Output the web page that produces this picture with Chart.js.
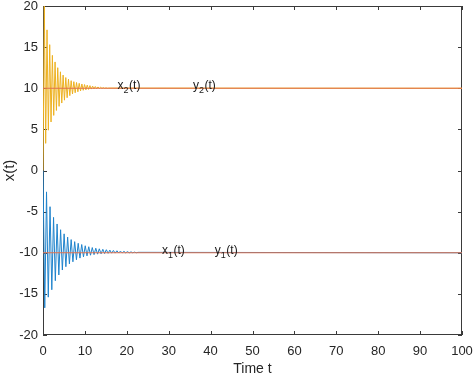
<!DOCTYPE html>
<html>
<head>
<meta charset="utf-8">
<script src="https://cdn.jsdelivr.net/npm/chart.js@4.4.1/dist/chart.umd.min.js"></script>
<style>
html,body{margin:0;padding:0;background:#fff;overflow:hidden;}
#wrap{width:474px;height:379px;}
</style>
</head>
<body>
<div id="wrap"><canvas id="c" width="474" height="379"></canvas></div>
<script>
// ---- data ----
const tX2 = [0,0.32,0.64,0.96,1.28,1.6,1.92,2.24,2.56,2.88,3.2,3.52,3.84,4.16,4.48,4.8,5.12,5.44,5.76,6.08,6.4,6.72,7.04,7.36,7.68,8,8.32,8.64,8.96,9.28,9.6,9.92,10.24,10.56,10.88,11.2,11.52,11.84,12.16,12.48,12.8,13.12,13.44,13.76,14.08,14.4,14.72,15.04,15.36,15.68,100];
const x2 = [0,20,3.3,17.1,4.9,15.3,5.9,14.0,6.7,13.2,7.3,12.5,7.8,12.0,8.2,11.6,8.55,11.3,8.85,11.1,9.1,10.92,9.3,10.8,9.45,10.7,9.57,10.6,9.67,10.52,9.75,10.45,9.81,10.38,9.86,10.32,9.9,10.26,9.93,10.21,9.95,10.16,9.97,10.12,9.98,10.08,9.99,10.05,10,10.02,10];

const tX1 = [0,0.42,0.84,1.26,1.68,2.1,2.52,2.94,3.36,3.78,4.2,4.62,5.04,5.46,5.88,6.3,6.72,7.14,7.56,7.98,8.4,8.82,9.24,9.66,10.08,10.5,10.92,11.34,11.76,12.18,12.6,13.02,13.44,13.86,14.28,14.7,15.12,15.54,15.96,16.38,16.8,17.22,17.64,18.06,18.48,18.9,19.32,19.74,20.16,20.58,21.0,21.42,21.84,22.26,22.68,100];
const x1 = [0,-16.7,-2.6,-15.4,-4.4,-14.5,-5.7,-13.4,-6.5,-12.7,-7.2,-12.1,-7.7,-11.7,-8.1,-11.35,-8.4,-11.1,-8.65,-10.85,-8.85,-10.65,-9.0,-10.5,-9.15,-10.38,-9.27,-10.3,-9.37,-10.23,-9.45,-10.17,-9.52,-10.13,-9.58,-10.1,-9.63,-10.07,-9.68,-10.05,-9.72,-10.04,-9.76,-10.03,-9.8,-10.02,-9.83,-10.015,-9.86,-10.01,-9.89,-10.005,-9.92,-10,-9.95,-10];

const tRef = [0,100];
const y1 = [-10,-10];
const y2 = [10,10];

const xTicks = [0,10,20,30,40,50,60,70,80,90,100];
const yTicks = [-20,-15,-10,-5,0,5,10,15,20];

// curve labels: [main, subscript, t-position, value]
const curveLabels = [
  ['x','2',17.8,10],
  ['y','2',35.8,10],
  ['x','1',28.4,-10],
  ['y','1',41.0,-10]
];

// ---- build ----
const pts = (t,v)=>t.map((ti,i)=>({x:ti,y:v[i]}));
const FONT = '"Liberation Sans", Arial, Helvetica, sans-serif';

const boxPlugin = {
  id:'box',
  beforeDatasetsDraw(chart){
    const {ctx, chartArea:a, scales} = chart;
    ctx.save();
    ctx.strokeStyle = '#3a3a3a';
    ctx.lineWidth = 1;
    ctx.strokeRect(Math.round(a.left)+0.5, Math.round(a.top)+0.5, Math.round(a.right-a.left)-1, Math.round(a.bottom-a.top)-1);
    const L = 4;
    ctx.beginPath();
    xTicks.forEach(v=>{
      const px = Math.round(scales.x.getPixelForValue(v))+0.5;
      ctx.moveTo(px,a.bottom); ctx.lineTo(px,a.bottom-L);
      ctx.moveTo(px,a.top); ctx.lineTo(px,a.top+L);
    });
    yTicks.forEach(v=>{
      const py = Math.round(scales.y.getPixelForValue(v))+0.5;
      ctx.moveTo(a.left,py); ctx.lineTo(a.left+L,py);
      ctx.moveTo(a.right,py); ctx.lineTo(a.right-L,py);
    });
    ctx.stroke();
    ctx.restore();
  },
  afterDatasetsDraw(chart){
    const {ctx, scales} = chart;
    ctx.save();
    ctx.fillStyle = '#1a1a1a';
    ctx.textBaseline = 'alphabetic';
    ctx.textAlign = 'left';
    curveLabels.forEach(([m,s,t,v])=>{
      let x = scales.x.getPixelForValue(t);
      const y = scales.y.getPixelForValue(v)+1;
      ctx.font = '12px '+FONT;
      ctx.fillText(m,x,y); x += ctx.measureText(m).width;
      ctx.font = '9px '+FONT;
      ctx.fillText(s,x,y+4); x += ctx.measureText(s).width+0.5;
      ctx.font = '12px '+FONT;
      ctx.fillText('(t)',x,y);
    });
    ctx.restore();
  }
};

const lineDs = (label,data,color,w)=>({label,data,borderColor:color,backgroundColor:color,borderWidth:w,showLine:true,pointRadius:0,tension:0,fill:false});

new Chart(document.getElementById('c'),{
  type:'scatter',
  data:{datasets:[
    lineDs('y2',pts(tRef,y2),'#e0704c',1),
    lineDs('y1',pts(tRef,y1),'#e0704c',1),
    lineDs('x2',pts(tX2,x2),'#EDB120',1),
    lineDs('x1',pts(tX1,x1),'#1f83cc',1),
  ]},
  options:{
    responsive:false,
    animation:false,
    layout:{padding:{left:0,right:12,top:6,bottom:0}},
    plugins:{legend:{display:false},tooltip:{enabled:false}},
    scales:{
      x:{type:'linear',min:0,max:100,
        afterBuildTicks(s){ s.ticks = xTicks.map(v=>({value:v})); },
        afterFit(s){ s.height = 44; s.paddingLeft = 0; s.paddingRight = 0; },
        grid:{display:false,drawTicks:false},
        border:{display:false},
        ticks:{padding:9,color:'#262626',font:{family:FONT,size:13},maxRotation:0,autoSkip:false},
        title:{display:true,text:'Time t',color:'#262626',font:{family:FONT,size:14},padding:{top:0,bottom:1}}
      },
      y:{type:'linear',min:-20,max:20,
        afterBuildTicks(s){ s.ticks = yTicks.map(v=>({value:v})); },
        afterFit(s){ s.width = 43; s.paddingTop = 0; s.paddingBottom = 0; },
        grid:{display:false,drawTicks:false},
        border:{display:false},
        ticks:{padding:5,color:'#262626',font:{family:FONT,size:13},autoSkip:false},
        title:{display:true,text:'x(t)',color:'#262626',font:{family:FONT,size:15},padding:{top:1,bottom:0}}
      }
    }
  },
  plugins:[boxPlugin]
});
</script>
</body>
</html>
